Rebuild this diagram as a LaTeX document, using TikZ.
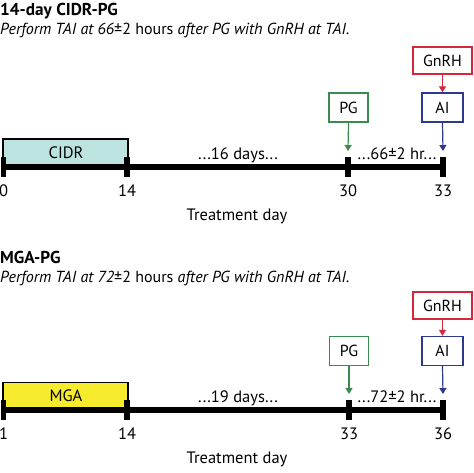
\documentclass[tikz,border=0pt]{standalone}
\usepackage{fontspec}
\setmainfont{PT Sans}
\usetikzlibrary{arrows.meta}
\definecolor{gnred}{HTML}{D3273A}
\definecolor{pggreen}{HTML}{3B8A50}
\definecolor{aiblue}{HTML}{2B3990}
\definecolor{cidrfill}{HTML}{BCE3DF}
\definecolor{mgafill}{HTML}{F7EB2D}
\tikzset{
  lab/.style={font=\fontsize{16.5}{19}\selectfont, inner sep=0pt},
  ttl/.style={font=\fontsize{17.2}{20}\selectfont\bfseries, inner sep=0pt, anchor=base west},
  sub/.style={font=\fontsize{16}{19}\selectfont\itshape, inner sep=0pt, anchor=base west},
  evbox/.style={draw, line width=1.4pt, fill=white, minimum height=29pt, inner sep=0pt, font=\fontsize{16}{19}\selectfont},
  drugbox/.style={draw=black, line width=1.3pt, minimum height=27pt, minimum width=125pt, inner sep=0pt},
  arr/.style={line width=1.2pt, -{Triangle[length=6pt,width=7pt]}},
  axisline/.style={line width=5.5pt},
  tickbar/.style={line width=5.5pt},
  daylab/.style={lab, anchor=base},
}
\begin{document}
\begin{tikzpicture}[x=1pt,y=-1pt]
\useasboundingbox (0,0) rectangle (474,472);
% ---------- top panel ----------
\node[ttl] (t1) at (0,15.3) {14-day CIDR-PG};
\node[sub] (s1) at (0,34.5) {Perform TAI at 66\/{\upshape ±2 hours} after PG with GnRH at TAI.};
\node[drugbox, fill=cidrfill] (cidr) at (65.5,152.5) {};
\node[lab, anchor=base] (cidrt) at (66,158) {CIDR};
\draw[axisline] (0.5,167) -- (445,167);
\foreach \x/\n in {3.5/0, 127/14, 348/30, 443/33}{
  \draw[tickbar] (\x,157) -- (\x,177);
  \node[daylab] (d1-\n) at (\x,196) {\n};
}
\node[lab, anchor=base] (td1) at (237,220) {Treatment day};
\node[lab, anchor=base] (gap1) at (238,159) {...16 days...};
\node[lab, anchor=base] (hr1) at (397,159) {...66±2 hr...};
\node[evbox, draw=pggreen, minimum width=39pt] (pg1) at (348.5,107.5) {PG};
\node[evbox, draw=aiblue, minimum width=41pt] (ai1) at (442.5,107.5) {AI};
\node[evbox, draw=gnred, minimum width=59pt, minimum height=27pt] (gn1) at (442.5,60.5) {GnRH};
\coordinate (pgend1) at (348,151);
\coordinate (aiend1) at (443,151);
\draw[arr, pggreen] (pg1.south) -- (pgend1);
\draw[arr, aiblue] (ai1.south) -- (aiend1);
\draw[arr, gnred] (gn1.south) -- (ai1.north);
% ---------- bottom panel ----------
\node[ttl] (t2) at (0,263.3) {MGA-PG};
\node[sub] (s2) at (0,282.5) {Perform TAI at 72\/{\upshape ±2 hours} after PG with GnRH at TAI.};
\node[drugbox, fill=mgafill] (mga) at (65.5,396) {};
\node[lab, anchor=base] (mgat) at (66,401.5) {MGA};
\draw[axisline] (0.5,410) -- (445,410);
\foreach \x/\n in {3.5/1, 127/14, 349/33, 443/36}{
  \draw[tickbar] (\x,400) -- (\x,420);
  \node[daylab] (d2-\n) at (\x,439) {\n};
}
\node[lab, anchor=base] (td2) at (237,463) {Treatment day};
\node[lab, anchor=base] (gap2) at (238,402) {...19 days...};
\node[lab, anchor=base] (hr2) at (397,402) {...72±2 hr...};
\node[evbox, draw=pggreen, minimum width=39pt] (pg2) at (349,351) {PG};
\node[evbox, draw=aiblue, minimum width=41pt] (ai2) at (442.5,351) {AI};
\node[evbox, draw=gnred, minimum width=59pt, minimum height=27pt] (gn2) at (442.5,305.5) {GnRH};
\coordinate (pgend2) at (349,394);
\coordinate (aiend2) at (443,394);
\draw[arr, pggreen] (pg2.south) -- (pgend2);
\draw[arr, aiblue] (ai2.south) -- (aiend2);
\draw[arr, gnred] (gn2.south) -- (ai2.north);
\end{tikzpicture}
\end{document}
